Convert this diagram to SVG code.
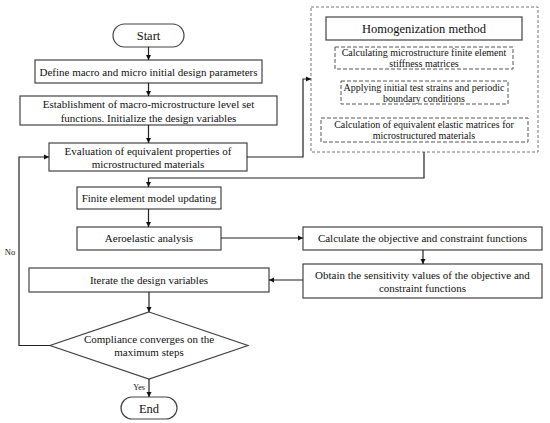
<svg xmlns="http://www.w3.org/2000/svg" width="550" height="423" viewBox="0 0 550 423">
<defs>
<marker id="ah" markerWidth="6" markerHeight="6" refX="5" refY="3" orient="auto" markerUnits="userSpaceOnUse">
<path d="M0,0.5 L5,3 L0,5.5 Z" fill="#111"/>
</marker>
<style>
.b{fill:#fff;stroke:#444;stroke-width:1.2}
.d{fill:#fff;stroke:#555;stroke-width:1;stroke-dasharray:4,2}
.o{fill:#fff;stroke:#777;stroke-width:1;stroke-dasharray:3,2}
.t{font-family:"Liberation Serif","Times New Roman",serif;font-size:11px;fill:#111;text-anchor:middle}
.s{font-family:"Liberation Serif","Times New Roman",serif;font-size:10px;fill:#111;text-anchor:middle}
.c{fill:none;stroke:#222;stroke-width:1.2}
</style>
</defs>
<rect width="550" height="423" fill="#fff"/>
<g id="homog">
<rect class="o" x="311" y="7" width="227" height="145"/>
<rect class="b" x="326" y="17" width="196" height="23"/>
<text class="t" x="424" y="32.5" style="font-size:12.5px">Homogenization method</text>
<rect class="d" x="335" y="47" width="178" height="22"/>
<text class="s" x="424" y="56">Calculating microstructure finite element</text>
<text class="s" x="424" y="67">stiffness matrices</text>
<rect class="d" x="341" y="81" width="167" height="23"/>
<text class="s" x="424" y="91">Applying initial test strains and periodic</text>
<text class="s" x="424" y="102">boundary conditions</text>
<rect class="d" x="321" y="118" width="207" height="24"/>
<text class="s" x="424" y="128">Calculation of equivalent elastic matrices for</text>
<text class="s" x="424" y="139">microstructured materials</text>
</g>
<g id="start">
<rect class="b" x="113" y="24" width="71" height="23" rx="11.5"/>
<text class="t" x="148.5" y="40" style="font-size:12.5px">Start</text>
</g>
<g id="define">
<rect class="b" x="35" y="60" width="227" height="23"/>
<text class="t" x="148.5" y="75.5">Define macro and micro initial design parameters</text>
</g>
<g id="establish">
<rect class="b" x="20" y="96" width="257" height="29"/>
<text class="t" x="148.5" y="108">Establishment of macro-microstructure level set</text>
<text class="t" x="148.5" y="121.5">functions. Initialize the design variables</text>
</g>
<g id="evaluation">
<rect class="b" x="49" y="143" width="198" height="28"/>
<text class="t" x="148" y="155">Evaluation of equivalent properties of</text>
<text class="t" x="148" y="168">microstructured materials</text>
</g>
<g id="finite">
<rect class="b" x="77" y="187" width="144" height="22"/>
<text class="t" x="149" y="201.5">Finite element model updating</text>
</g>
<g id="aero">
<rect class="b" x="77" y="227" width="144" height="23"/>
<text class="t" x="149" y="242">Aeroelastic analysis</text>
</g>
<g id="calc">
<rect class="b" x="303" y="227" width="239" height="23"/>
<text class="t" x="422.5" y="242">Calculate the objective and constraint functions</text>
</g>
<g id="obtain">
<rect class="b" x="303" y="264" width="239" height="34"/>
<text class="t" x="422.5" y="279">Obtain the sensitivity values of the objective and</text>
<text class="t" x="422.5" y="292">constraint functions</text>
</g>
<g id="iterate">
<rect class="b" x="29" y="268" width="240" height="24"/>
<text class="t" x="149" y="284">Iterate the design variables</text>
</g>
<g id="decision">
<polygon class="b" points="149,312 248,345.5 149,379 50,345.5"/>
<text class="t" x="149" y="342.5">Compliance converges on the</text>
<text class="t" x="149" y="356">maximum steps</text>
</g>
<g id="end">
<rect class="b" x="121" y="397" width="56" height="22" rx="11"/>
<text class="t" x="149" y="412.5" style="font-size:12.5px">End</text>
</g>
<g id="connectors">
<path class="c" d="M148.5,47 V60" marker-end="url(#ah)"/>
<path class="c" d="M148.5,83 V96" marker-end="url(#ah)"/>
<path class="c" d="M148.5,125 V143" marker-end="url(#ah)"/>
<path class="c" d="M247,157 H303 V79 H311" marker-end="url(#ah)"/>
<path class="c" d="M424,152 V178 H148.5 V187" marker-end="url(#ah)"/>
<path class="c" d="M148.5,209 V227" marker-end="url(#ah)"/>
<path class="c" d="M221,238 H303" marker-end="url(#ah)"/>
<path class="c" d="M423,250 V264" marker-end="url(#ah)"/>
<path class="c" d="M303,280 H269" marker-end="url(#ah)"/>
<path class="c" d="M149,292 V312" marker-end="url(#ah)"/>
<path class="c" d="M149,379 V397" marker-end="url(#ah)"/>
<path class="c" d="M50,345.5 H19 V157 H49" marker-end="url(#ah)"/>
<text class="s" x="139" y="390" style="font-size:8px">Yes</text>
<text class="s" x="10" y="255" style="font-size:8.5px">No</text>
</g>
</svg>
